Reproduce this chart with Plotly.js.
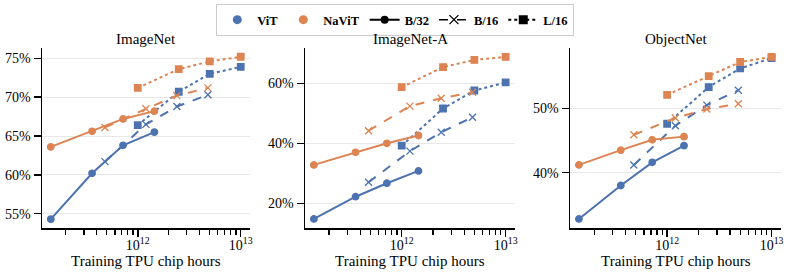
<!DOCTYPE html>
<html>
<head>
<meta charset="utf-8">
<script src="https://cdn.plot.ly/plotly-3.0.1.min.js"></script>
<style>html,body{margin:0;padding:0;background:#fff}#chart{width:789px;height:275px}</style>
</head>
<body>
<div id="chart"></div>
<script>
// Training compute (TPU chip hours)
const x_b32 = [1.43e11, 3.6e11, 7.2e11, 1.45e12];
const x_b16 = [4.8e11, 1.2e12, 2.4e12, 4.8e12];
const x_l16 = [1e12, 2.5e12, 5e12, 1e13];

const panelTitles = ["ImageNet", "ImageNet-A", "ObjectNet"];

// ImageNet (%)
const in_vit_b32 = [54.3, 60.2, 63.8, 65.5];
const in_navit_b32 = [63.6, 65.6, 67.2, 68.2];
const in_vit_b16 = [61.7, 66.5, 68.8, 70.3];
const in_navit_b16 = [66.1, 68.5, 70.2, 71.2];
const in_vit_l16 = [66.4, 70.7, 73.0, 73.9];
const in_navit_l16 = [71.2, 73.6, 74.6, 75.2];

// ImageNet-A (%)
const ina_vit_b32 = [14.8, 22.2, 26.7, 30.8];
const ina_navit_b32 = [32.8, 37.0, 40.0, 42.6];
const ina_vit_b16 = [27.0, 37.4, 43.7, 48.7];
const ina_navit_b16 = [44.2, 52.4, 55.0, 57.0];
const ina_vit_l16 = [39.2, 51.6, 57.6, 60.3];
const ina_navit_l16 = [58.7, 65.4, 67.8, 68.8];

// ObjectNet (%)
const on_vit_b32 = [32.8, 38.0, 41.6, 44.2];
const on_navit_b32 = [41.2, 43.5, 45.1, 45.6];
const on_vit_b16 = [41.2, 47.3, 50.5, 52.8];
const on_navit_b16 = [45.9, 48.5, 49.9, 50.7];
const on_vit_l16 = [47.6, 53.3, 56.2, 57.8];
const on_navit_l16 = [52.1, 55.0, 57.2, 58.0];

const yTicks = [[55, 60, 65, 70, 75], [20, 40, 60], [40, 50]];
const xTickVals = [1e12, 1e13];
const xTickText = ["10<sup>12</sup>", "10<sup>13</sup>"];
const xMinor = [2e11,3e11,4e11,5e11,6e11,7e11,8e11,9e11,2e12,3e12,4e12,5e12,6e12,7e12,8e12,9e12];

const BLUE = "#4C72B0", ORANGE = "#DD8452";
const FONT = "'Liberation Serif', 'Times New Roman', serif";

const panels = [
  {vit: [in_vit_b32, in_vit_b16, in_vit_l16], navit: [in_navit_b32, in_navit_b16, in_navit_l16], yr: [53.12, 76.29]},
  {vit: [ina_vit_b32, ina_vit_b16, ina_vit_l16], navit: [ina_navit_b32, ina_navit_b16, ina_navit_l16], yr: [11.67, 71.67]},
  {vit: [on_vit_b32, on_vit_b16, on_vit_l16], navit: [on_navit_b32, on_navit_b16, on_navit_l16], yr: [31.35, 59.33]}
];

const W = 789, H = 275;
const xDomPx = [[42, 250], [305, 515], [570, 781]];
const yDomPx = [48.3, 228.3];

const styles = [
  {x: x_b32, dash: "solid", symbol: "circle", size: 6.5},
  {x: x_b16, dash: "dash", symbol: "x-thin-open", size: 7},
  {x: x_l16, dash: "dot", symbol: "square", size: 6.5}
];

const traces = [];
panels.forEach((p, i) => {
  const xa = i === 0 ? "x" : "x" + (i + 1);
  const ya = i === 0 ? "y" : "y" + (i + 1);
  [[p.vit, BLUE], [p.navit, ORANGE]].forEach(([series, col]) => {
    series.forEach((ys, k) => {
      const s = styles[k];
      traces.push({
        x: s.x, y: ys, xaxis: xa, yaxis: ya, type: "scatter", mode: "lines+markers",
        line: {color: col, width: 2, dash: s.dash},
        marker: {color: col, symbol: s.symbol, size: s.size, line: {color: col, width: 1.3}},
        showlegend: false, hoverinfo: "skip"
      });
    });
  });
});

// legend entries
traces.push({x: [null], y: [null], type: "scatter", mode: "markers", name: "ViT",
  marker: {color: BLUE, symbol: "circle", size: 9}});
traces.push({x: [null], y: [null], type: "scatter", mode: "markers", name: "NaViT",
  marker: {color: ORANGE, symbol: "circle", size: 9}});
traces.push({x: [null], y: [null], type: "scatter", mode: "lines+markers", name: "B/32",
  line: {color: "black", width: 2, dash: "solid"}, marker: {color: "black", symbol: "circle", size: 8}});
traces.push({x: [null], y: [null], type: "scatter", mode: "lines+markers", name: "B/16",
  line: {color: "black", width: 1.5, dash: "dash"}, marker: {color: "black", symbol: "x-thin-open", size: 9, line: {color: "black", width: 1.3}}});
traces.push({x: [null], y: [null], type: "scatter", mode: "lines+markers", name: "L/16",
  line: {color: "black", width: 2, dash: "dot"}, marker: {color: "black", symbol: "square", size: 9}});

const layout = {
  width: W, height: H,
  margin: {l: 0, r: 0, t: 0, b: 0},
  paper_bgcolor: "white", plot_bgcolor: "white",
  font: {family: FONT, size: 13, color: "black"},
  showlegend: true,
  legend: {
    orientation: "h", x: 0.501, xanchor: "center", y: 1 - 4 / H, yanchor: "top",
    bordercolor: "#cccccc", borderwidth: 1, bgcolor: "white",
    font: {family: FONT, size: 12.5, color: "black", weight: "bold"},
    itemwidth: 30
  },
  annotations: []
};

panels.forEach((p, i) => {
  const sfx = i === 0 ? "" : String(i + 1);
  const dx = [xDomPx[i][0] / W, xDomPx[i][1] / W];
  const dy = [1 - yDomPx[1] / H, 1 - yDomPx[0] / H];
  layout["xaxis" + sfx] = {
    type: "log", domain: dx, anchor: "y" + sfx, range: [11.07, 13.09],
    tickmode: "array", tickvals: xTickVals, ticktext: xTickText, ticks: "outside", ticklen: 7, tickwidth: 1.5, tickcolor: "black",
    ticklabelstandoff: -4,
    showline: true, linecolor: "black", linewidth: 1.5, showgrid: false, zeroline: false,
    minor: {tickvals: xMinor, ticks: "outside", ticklen: 5, tickwidth: 1.2, tickcolor: "black", showgrid: false},
    tickfont: {family: FONT, size: 14, color: "black"}, fixedrange: true
  };
  layout["yaxis" + sfx] = {
    domain: dy, anchor: "x" + sfx, range: p.yr,
    tickmode: "array", tickvals: yTicks[i], ticktext: yTicks[i].map(v => v + "%"),
    ticks: "outside", ticklen: 7, tickwidth: 1.5, tickcolor: "black",
    showline: true, linecolor: "black", linewidth: 1.5, showgrid: true, gridcolor: "#e8e8e8", gridwidth: 1,
    zeroline: false, tickfont: {family: FONT, size: 14, color: "black"}, fixedrange: true
  };
  const cx = (xDomPx[i][0] + xDomPx[i][1]) / 2 / W;
  layout.annotations.push({text: panelTitles[i], x: cx, y: 1 - 39 / H, xref: "paper", yref: "paper",
    xanchor: "center", yanchor: "middle", showarrow: false, font: {family: FONT, size: 15, color: "black"}});
  layout.annotations.push({text: "Training TPU chip hours", x: cx, y: 1 - 261 / H, xref: "paper", yref: "paper",
    xanchor: "center", yanchor: "middle", showarrow: false, font: {family: FONT, size: 15, color: "black"}});
});

Plotly.newPlot("chart", traces, layout, {displayModeBar: false, staticPlot: true});
</script>
</body>
</html>
